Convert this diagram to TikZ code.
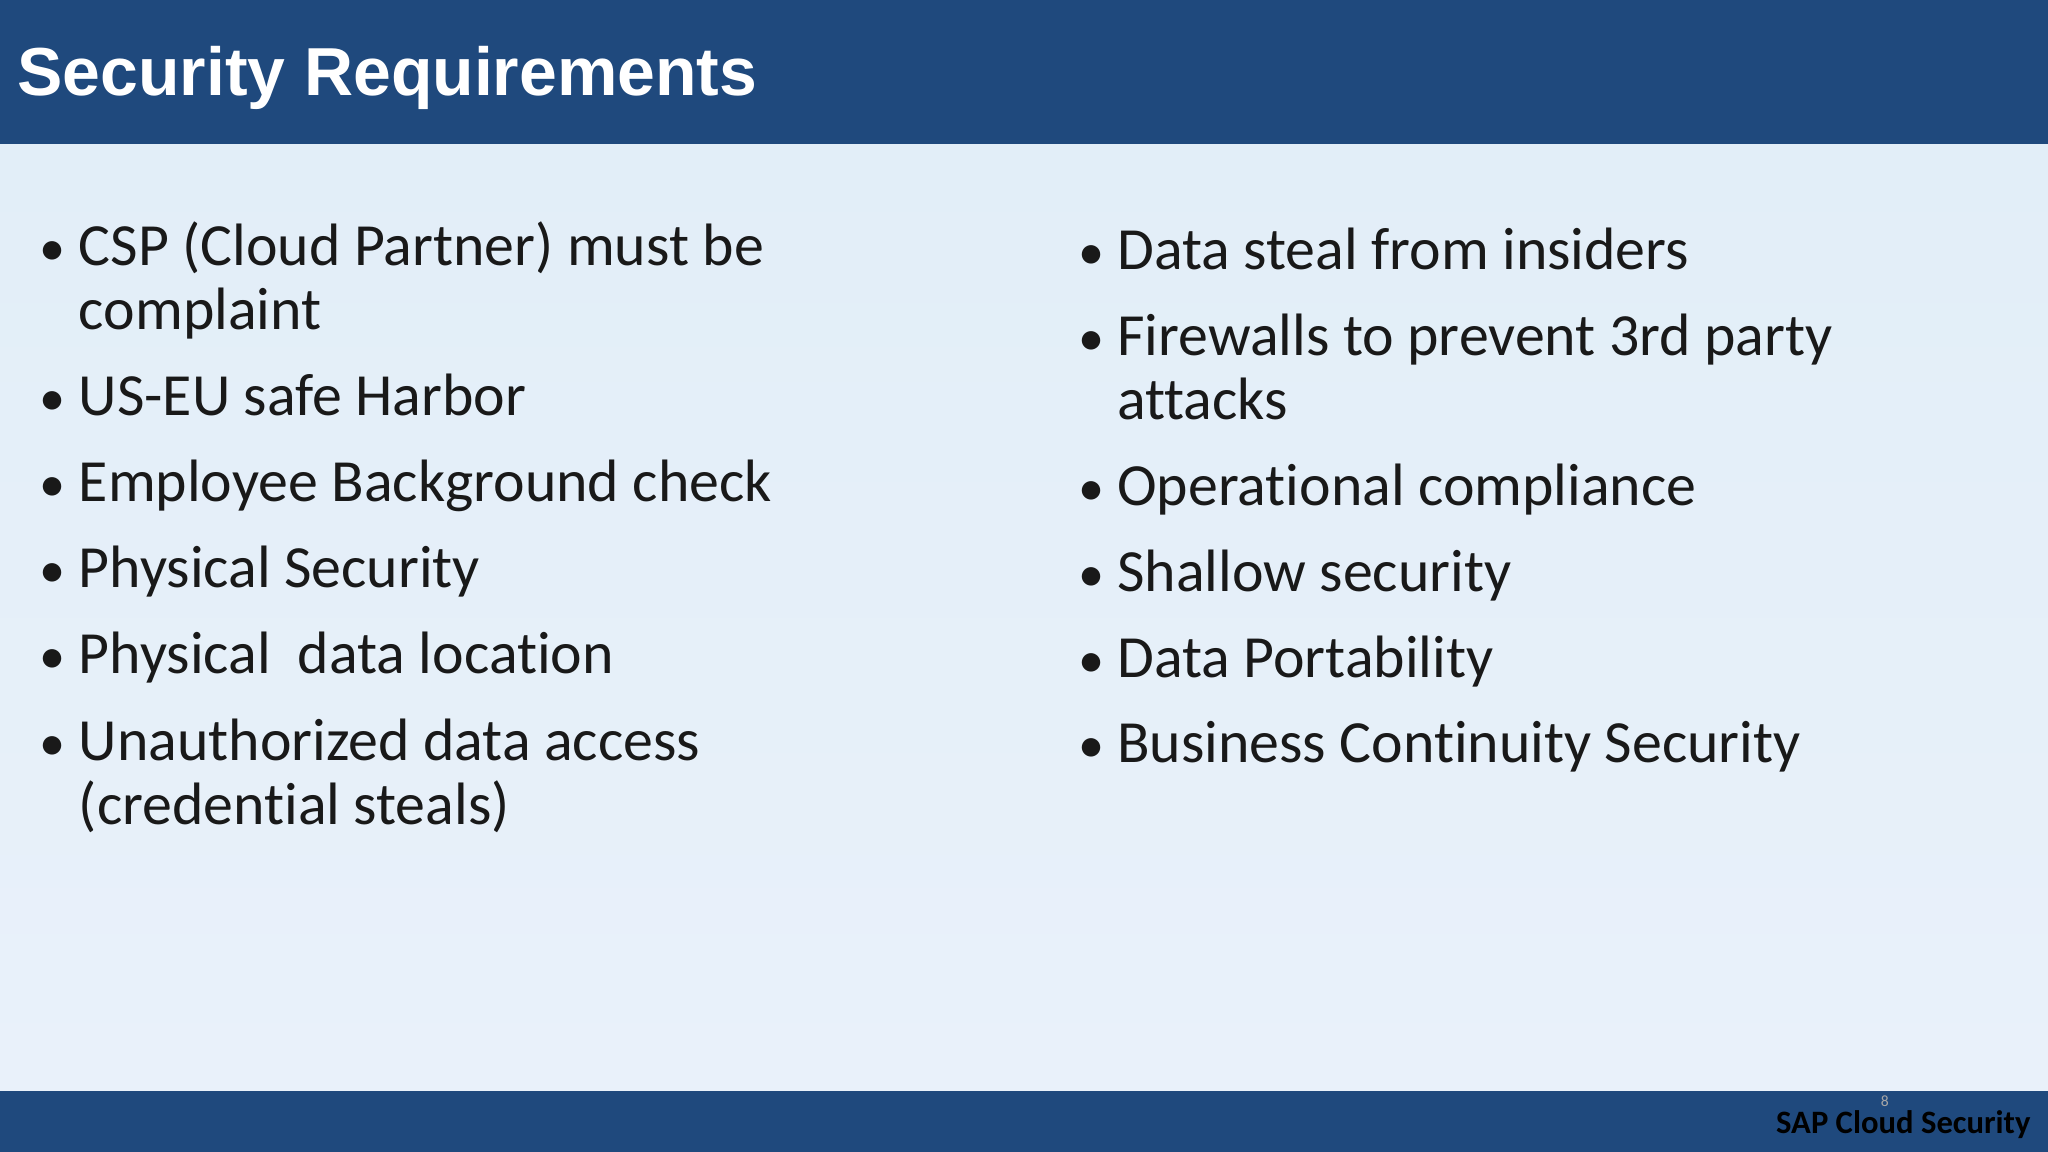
\documentclass[tikz,border=0pt]{standalone}
\usepackage{fontspec}
\setmainfont{Carlito}[Ligatures=NoCommon]
\newfontfamily\titlefont{Liberation Sans}
\definecolor{hdr}{RGB}{31,73,125}
\definecolor{bgtop}{RGB}{226,238,248}
\definecolor{bgbot}{RGB}{233,241,250}
\begin{document}
\begin{tikzpicture}[x=0.5pt,y=-0.5pt,
  item/.style={anchor=base west,inner sep=0pt,font=\fontsize{22.9}{24.5}\selectfont,text=black!90,align=left},
  bul/.style={anchor=base west,inner sep=0pt,font=\fontsize{20}{20}\selectfont,text=black!90}]
\useasboundingbox (0,0) rectangle (1568,882);
\shade[top color=bgtop,bottom color=bgbot] (0,110) rectangle (1568,835);
\fill[hdr] (0,0) rectangle (1568,110);
\fill[hdr] (0,835) rectangle (1568,882);
\node[anchor=base west,inner sep=0pt,text=white,font=\titlefont\bfseries\fontsize{26}{26}\selectfont] (title) at (13,73) {Security Requirements};
% left column (multi-line nodes are placed at their last baseline)
\foreach \n/\b/\y/\t in {l1/203/252/{CSP (Cloud Partner) must be\\complaint},l2/318/318/{US-EU safe Harbor},l3/384/384/{Employee Background check},l4/450/450/{Physical Security},l5/516/516/{Physical\ \ data location},l6/582/631/{Unauthorized data access\\(credential steals)}}{
  \node[bul] (b\n) at (30,\b) {•};
  \node[item] (\n) at (60,\y) {\t};
}
\foreach \n/\b/\y/\t in {r1/206/206/{Data steal from insiders},r2/272/321/{Firewalls to prevent 3rd party\\attacks},r3/387/387/{Operational compliance},r4/453/453/{Shallow security},r5/519/519/{Data Portability},r6/584/584/{Business Continuity Security}}{
  \node[bul] (b\n) at (825,\b) {•};
  \node[item] (\n) at (855,\y) {\t};
}
\node[anchor=base,inner sep=0pt,text=gray!70,font=\fontsize{6}{6}\selectfont] (pg) at (1443,847) {8};
\node[anchor=base east,inner sep=0pt,text=black,font=\bfseries\fontsize{12.5}{12.5}\selectfont] (foot) at (1555,868) {SAP Cloud Security};
\end{tikzpicture}
\end{document}
